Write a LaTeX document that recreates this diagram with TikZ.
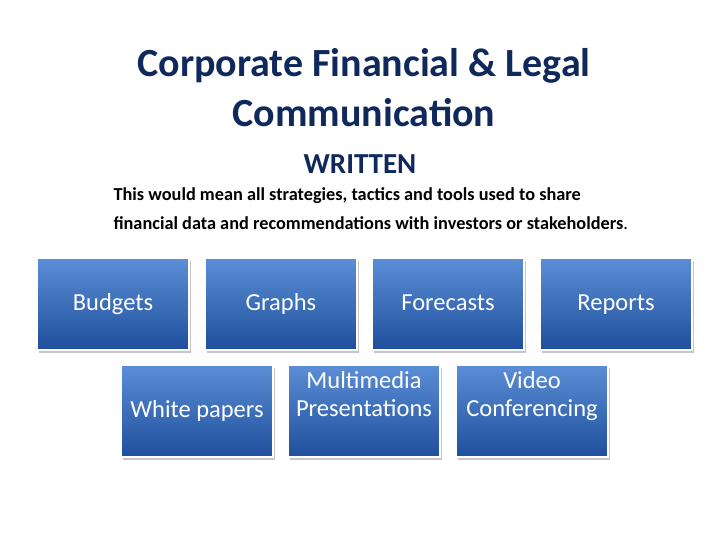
\documentclass[tikz,border=0pt]{standalone}
\usepackage{fontspec}
\setmainfont{Carlito}
\usetikzlibrary{shadows}
\definecolor{navy}{HTML}{10295C}
\definecolor{btop}{HTML}{5B8ED6}
\definecolor{bbot}{HTML}{1F4F9C}
\tikzset{
 box/.style={draw=white, line width=1.2pt, minimum width=152pt, minimum height=92pt, inner sep=0pt,
   top color=btop, bottom color=bbot,
   drop shadow={shadow xshift=2pt, shadow yshift=-3pt, opacity=0.45}},
 lbl/.style={text=white, font=\fontsize{24.5}{28}\selectfont, align=center, text height=17pt, text depth=5pt}
}
\begin{document}
\begin{tikzpicture}[x=1pt,y=-1pt]
\useasboundingbox[fill=white] (0,0) rectangle (728,546);
\node[text=navy, font=\bfseries\fontsize{40}{50}\selectfont, align=center] (title) at (364,88) {Corporate Financial \& Legal\\Communication};
\node[text=navy, font=\bfseries\fontsize{29}{32}\selectfont] (wr) at (360,164) {WRITTEN};
\node[font=\bfseries\fontsize{18.3}{29}\selectfont, align=left, anchor=west] (desc) at (110,209) {This would mean all strategies, tactics and tools used to share\\financial data and recommendations with investors or stakeholders\mdseries.};
\node[box] (b1) at (113,304) {};
\node[box] (b2) at (281,304) {};
\node[box] (b3) at (448,304) {};
\node[box] (b4) at (616,304) {};
\node[box] (b5) at (197,411) {};
\node[box] (b6) at (364,411) {};
\node[box] (b7) at (532,411) {};
\node[lbl] (t1) at (113,304) {Budgets};
\node[lbl] (t2) at (281,304) {Graphs};
\node[lbl] (t3) at (448,304) {Forecasts};
\node[lbl] (t4) at (616,304) {Reports};
\node[lbl] (t5) at (197,411) {White papers};
\node[lbl] (t6) at (364,410) {Multimedia\\Presentations};
\node[lbl] (t7) at (532,410) {Video\\Conferencing};
\end{tikzpicture}
\end{document}
